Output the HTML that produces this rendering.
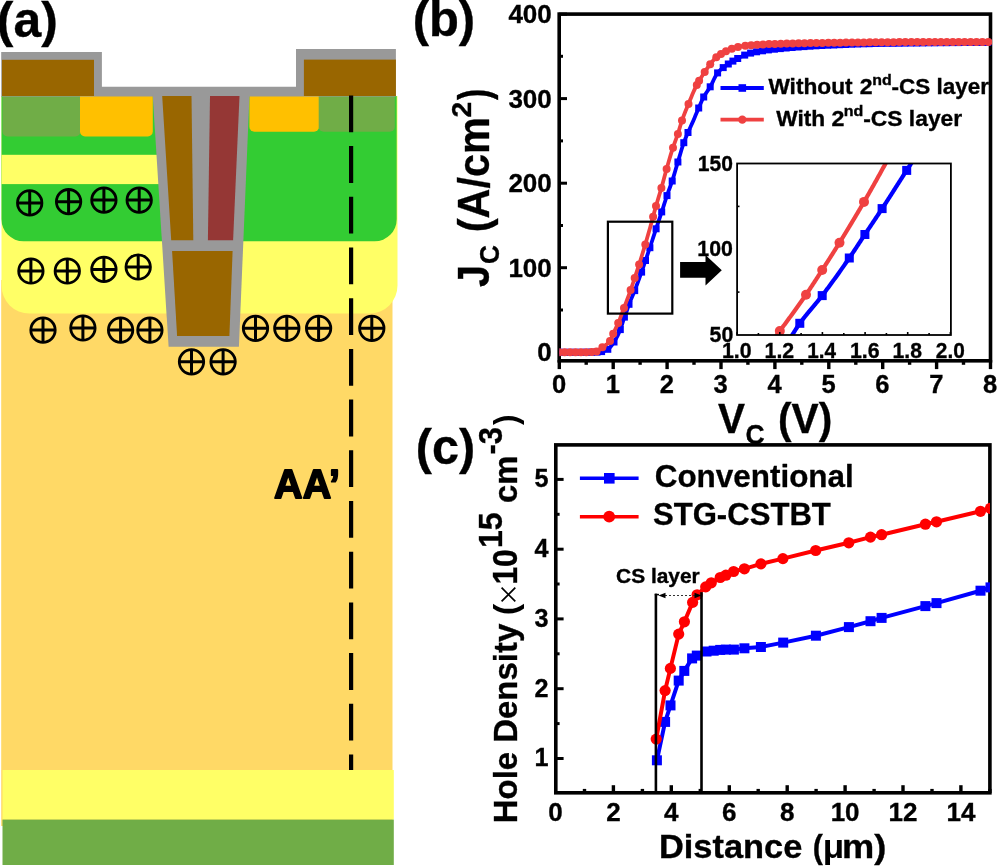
<!DOCTYPE html>
<html><head><meta charset="utf-8"><title>Figure</title>
<style>
html,body{margin:0;padding:0;background:#fff;width:998px;height:866px;overflow:hidden}
svg{display:block;will-change:transform}
text{font-family:"Liberation Sans",sans-serif;font-weight:bold;fill:#000;stroke:#000;stroke-width:0.35px}
</style></head><body>
<svg width="998" height="866" viewBox="0 0 998 866">
<rect x="1.2" y="280" width="391.3" height="546" fill="#FFD966" />
<rect x="2.5" y="770" width="391.3" height="49.6" fill="#FFFF66" />
<rect x="2.5" y="819.6" width="391.3" height="45.4" fill="#70AD47" />
<path d="M1.5 96 H397.5 V285.6 A28 28 0 0 1 369.5 313.6 H29.5 A28 28 0 0 1 1.5 285.6 Z" fill="#FFFF66"/>
<path d="M1.5 96 H396.7 V219.3 A22 22 0 0 1 374.7 241.3 H23.5 A22 22 0 0 1 1.5 219.3 Z" fill="#33CC33"/>
<rect x="1.5" y="154.8" width="158.5" height="29.3" fill="#FFFF66" />
<path d="M2.5 96 H80.5 V131.4 A5 5 0 0 1 75.5 136.4 H7.5 A5 5 0 0 1 2.5 131.4 Z" fill="#70AD47"/>
<path d="M80 96 H152.8 V131.4 A5 5 0 0 1 147.8 136.4 H85 A5 5 0 0 1 80 131.4 Z" fill="#FFC000"/>
<path d="M249.4 96 H319 V126.8 A5 5 0 0 1 314 131.8 H254.4 A5 5 0 0 1 249.4 126.8 Z" fill="#FFC000"/>
<path d="M318.7 96 H394.8 V126.8 A5 5 0 0 1 389.8 131.8 H323.7 A5 5 0 0 1 318.7 126.8 Z" fill="#70AD47"/>
<polygon points="1.2,52 101.9,52 101.9,86.8 296,86.8 296,49 395.9,49 395.9,96.5 1.2,96.5" fill="#999999" />
<rect x="2" y="59.8" width="92" height="36.2" fill="#996600" />
<rect x="303.9" y="59.6" width="92" height="36.4" fill="#996600" />
<polygon points="152.7,95 249.5,95 238.9,346.8 168.6,346.8" fill="#999999" />
<polygon points="162.2,96 191.5,96 193.3,240.2 171.2,240.2" fill="#996600" />
<polygon points="210,96 239.5,96 233.1,240.2 207.9,240.2" fill="#953735" />
<polygon points="172.1,251 232.6,251 229.4,336.1 177.1,336.1" fill="#996600" />
<circle cx="29.7" cy="202.9" r="12.2" fill="none" stroke="#000" stroke-width="2.8"/>
<path d="M17.5 202.9H41.9M29.7 190.7V215.1" stroke="#000" stroke-width="3" fill="none"/>
<circle cx="68.6" cy="201.7" r="12.2" fill="none" stroke="#000" stroke-width="2.8"/>
<path d="M56.4 201.7H80.8M68.6 189.5V213.9" stroke="#000" stroke-width="3" fill="none"/>
<circle cx="103.9" cy="200.1" r="12.2" fill="none" stroke="#000" stroke-width="2.8"/>
<path d="M91.7 200.1H116.1M103.9 187.9V212.3" stroke="#000" stroke-width="3" fill="none"/>
<circle cx="139.2" cy="200.1" r="12.2" fill="none" stroke="#000" stroke-width="2.8"/>
<path d="M127 200.1H151.4M139.2 187.9V212.3" stroke="#000" stroke-width="3" fill="none"/>
<circle cx="30.9" cy="271" r="12.2" fill="none" stroke="#000" stroke-width="2.8"/>
<path d="M18.7 271H43.1M30.9 258.8V283.2" stroke="#000" stroke-width="3" fill="none"/>
<circle cx="67.3" cy="271" r="12.2" fill="none" stroke="#000" stroke-width="2.8"/>
<path d="M55.1 271H79.5M67.3 258.8V283.2" stroke="#000" stroke-width="3" fill="none"/>
<circle cx="103.9" cy="269.4" r="12.2" fill="none" stroke="#000" stroke-width="2.8"/>
<path d="M91.7 269.4H116.1M103.9 257.2V281.6" stroke="#000" stroke-width="3" fill="none"/>
<circle cx="138.2" cy="267" r="12.2" fill="none" stroke="#000" stroke-width="2.8"/>
<path d="M126 267H150.4M138.2 254.8V279.2" stroke="#000" stroke-width="3" fill="none"/>
<circle cx="43" cy="330.1" r="12.2" fill="none" stroke="#000" stroke-width="2.8"/>
<path d="M30.8 330.1H55.2M43 317.9V342.3" stroke="#000" stroke-width="3" fill="none"/>
<circle cx="82.9" cy="328" r="12.2" fill="none" stroke="#000" stroke-width="2.8"/>
<path d="M70.7 328H95.1M82.9 315.8V340.2" stroke="#000" stroke-width="3" fill="none"/>
<circle cx="120.6" cy="330.1" r="12.2" fill="none" stroke="#000" stroke-width="2.8"/>
<path d="M108.4 330.1H132.8M120.6 317.9V342.3" stroke="#000" stroke-width="3" fill="none"/>
<circle cx="149.9" cy="330.1" r="12.2" fill="none" stroke="#000" stroke-width="2.8"/>
<path d="M137.7 330.1H162.1M149.9 317.9V342.3" stroke="#000" stroke-width="3" fill="none"/>
<circle cx="255.5" cy="328.3" r="12.2" fill="none" stroke="#000" stroke-width="2.8"/>
<path d="M243.3 328.3H267.7M255.5 316.1V340.5" stroke="#000" stroke-width="3" fill="none"/>
<circle cx="286.8" cy="328.3" r="12.2" fill="none" stroke="#000" stroke-width="2.8"/>
<path d="M274.6 328.3H299M286.8 316.1V340.5" stroke="#000" stroke-width="3" fill="none"/>
<circle cx="318.6" cy="328.3" r="12.2" fill="none" stroke="#000" stroke-width="2.8"/>
<path d="M306.4 328.3H330.8M318.6 316.1V340.5" stroke="#000" stroke-width="3" fill="none"/>
<circle cx="371.8" cy="328.3" r="12.2" fill="none" stroke="#000" stroke-width="2.8"/>
<path d="M359.6 328.3H384M371.8 316.1V340.5" stroke="#000" stroke-width="3" fill="none"/>
<circle cx="191.5" cy="361.8" r="12.2" fill="none" stroke="#000" stroke-width="2.8"/>
<path d="M179.3 361.8H203.7M191.5 349.6V374" stroke="#000" stroke-width="3" fill="none"/>
<circle cx="223.1" cy="361.8" r="12.2" fill="none" stroke="#000" stroke-width="2.8"/>
<path d="M210.9 361.8H235.3M223.1 349.6V374" stroke="#000" stroke-width="3" fill="none"/>
<line x1="351.1" y1="95.4" x2="351.1" y2="770" stroke="#000" stroke-width="4.2" stroke-dasharray="36.8 13.9"/>
<text x="274.11" y="498.40" font-size="41.00" textLength="65.87" lengthAdjust="spacingAndGlyphs" style="stroke-width:1.80px;stroke-linejoin:round">AA&#8217;</text>
<text x="-3.19" y="36.50" font-size="50.00" textLength="60.94" lengthAdjust="spacingAndGlyphs">(a)</text>
<text x="412.64" y="36.10" font-size="49.50" textLength="62.57" lengthAdjust="spacingAndGlyphs">(b)</text>
<text x="415.86" y="464.00" font-size="49.50" textLength="59.33" lengthAdjust="spacingAndGlyphs">(c)</text>
<defs><clipPath id="cb"><rect x="559.3" y="12.3" width="433" height="350"/></clipPath><clipPath id="ci"><rect x="737.1" y="163.5" width="213.8" height="171.5"/></clipPath><clipPath id="cc"><rect x="556" y="445" width="433.9" height="348"/></clipPath></defs>
<rect x="559.2" y="14.1" width="431.3" height="346.7" fill="none" stroke="#000" stroke-width="3.6"/>
<line x1="559" y1="352.3" x2="567.0" y2="352.3" stroke="#000" stroke-width="3"/>
<line x1="559" y1="310.0" x2="563.0" y2="310.0" stroke="#000" stroke-width="3"/>
<line x1="559" y1="267.7" x2="567.0" y2="267.7" stroke="#000" stroke-width="3"/>
<line x1="559" y1="225.5" x2="563.0" y2="225.5" stroke="#000" stroke-width="3"/>
<line x1="559" y1="183.2" x2="567.0" y2="183.2" stroke="#000" stroke-width="3"/>
<line x1="559" y1="140.9" x2="563.0" y2="140.9" stroke="#000" stroke-width="3"/>
<line x1="559" y1="98.6" x2="567.0" y2="98.6" stroke="#000" stroke-width="3"/>
<line x1="559" y1="56.3" x2="563.0" y2="56.3" stroke="#000" stroke-width="3"/>
<line x1="559" y1="14.1" x2="567.0" y2="14.1" stroke="#000" stroke-width="3"/>
<line x1="559.3" y1="360" x2="559.3" y2="369.1" stroke="#000" stroke-width="3.4"/>
<line x1="586.2" y1="360" x2="586.2" y2="364.8" stroke="#000" stroke-width="3.4"/>
<line x1="613.2" y1="360" x2="613.2" y2="369.1" stroke="#000" stroke-width="3.4"/>
<line x1="640.1" y1="360" x2="640.1" y2="364.8" stroke="#000" stroke-width="3.4"/>
<line x1="667.1" y1="360" x2="667.1" y2="369.1" stroke="#000" stroke-width="3.4"/>
<line x1="694.0" y1="360" x2="694.0" y2="364.8" stroke="#000" stroke-width="3.4"/>
<line x1="721.0" y1="360" x2="721.0" y2="369.1" stroke="#000" stroke-width="3.4"/>
<line x1="747.9" y1="360" x2="747.9" y2="364.8" stroke="#000" stroke-width="3.4"/>
<line x1="774.9" y1="360" x2="774.9" y2="369.1" stroke="#000" stroke-width="3.4"/>
<line x1="801.8" y1="360" x2="801.8" y2="364.8" stroke="#000" stroke-width="3.4"/>
<line x1="828.8" y1="360" x2="828.8" y2="369.1" stroke="#000" stroke-width="3.4"/>
<line x1="855.8" y1="360" x2="855.8" y2="364.8" stroke="#000" stroke-width="3.4"/>
<line x1="882.7" y1="360" x2="882.7" y2="369.1" stroke="#000" stroke-width="3.4"/>
<line x1="909.6" y1="360" x2="909.6" y2="364.8" stroke="#000" stroke-width="3.4"/>
<line x1="936.6" y1="360" x2="936.6" y2="369.1" stroke="#000" stroke-width="3.4"/>
<line x1="963.5" y1="360" x2="963.5" y2="364.8" stroke="#000" stroke-width="3.4"/>
<line x1="990.5" y1="360" x2="990.5" y2="369.1" stroke="#000" stroke-width="3.4"/>
<text x="551.8" y="361.4" font-size="26" text-anchor="end">0</text>
<text x="551.8" y="276.8" font-size="26" text-anchor="end">100</text>
<text x="551.8" y="192.3" font-size="26" text-anchor="end">200</text>
<text x="551.8" y="107.7" font-size="26" text-anchor="end">300</text>
<text x="551.8" y="23.2" font-size="26" text-anchor="end">400</text>
<text x="559.0" y="393.2" font-size="25.5" text-anchor="middle">0</text>
<text x="612.9" y="393.2" font-size="25.5" text-anchor="middle">1</text>
<text x="666.8" y="393.2" font-size="25.5" text-anchor="middle">2</text>
<text x="720.7" y="393.2" font-size="25.5" text-anchor="middle">3</text>
<text x="774.6" y="393.2" font-size="25.5" text-anchor="middle">4</text>
<text x="828.5" y="393.2" font-size="25.5" text-anchor="middle">5</text>
<text x="882.4" y="393.2" font-size="25.5" text-anchor="middle">6</text>
<text x="936.3" y="393.2" font-size="25.5" text-anchor="middle">7</text>
<text x="990.2" y="393.2" font-size="25.5" text-anchor="middle">8</text>
<g clip-path="url(#cb)">
<path d="M559.30 352.30 L560.38 352.30 L561.46 352.30 L562.54 352.30 L563.62 352.30 L564.70 352.30 L565.78 352.30 L566.86 352.30 L567.95 352.29 L569.03 352.29 L570.11 352.29 L571.19 352.29 L572.27 352.29 L573.35 352.28 L574.43 352.28 L575.51 352.28 L576.59 352.27 L577.67 352.27 L578.75 352.27 L579.83 352.26 L580.91 352.26 L581.99 352.25 L583.08 352.25 L584.16 352.24 L585.24 352.23 L586.32 352.23 L587.40 352.22 L588.48 352.21 L589.56 352.20 L590.64 352.19 L591.72 352.18 L592.80 352.17 L593.88 352.16 L594.96 352.15 L596.04 352.14 L597.12 352.13 L598.21 352.08 L599.29 351.97 L600.37 351.82 L601.45 351.65 L602.53 351.44 L603.61 351.16 L604.69 350.80 L605.77 350.36 L606.85 349.85 L607.93 349.27 L609.01 348.46 L610.09 347.35 L611.17 346.03 L612.25 344.55 L613.34 342.98 L614.42 341.37 L615.50 339.61 L616.58 337.68 L617.66 335.57 L618.74 333.28 L619.82 330.82 L620.90 328.10 L621.98 324.78 L623.06 321.23 L624.14 317.87 L625.22 315.09 L626.30 312.40 L627.38 309.22 L628.46 305.92 L629.55 302.95 L630.63 300.26 L631.71 297.71 L632.79 295.21 L633.87 292.65 L634.95 289.95 L636.03 287.15 L637.11 284.29 L638.19 281.38 L639.27 278.42 L640.35 275.42 L641.43 272.39 L642.51 269.28 L643.59 266.09 L644.68 262.86 L645.76 259.68 L646.84 256.53 L647.92 253.38 L649.00 250.22 L650.08 247.02 L651.16 243.77 L652.24 240.48 L653.32 237.16 L654.40 233.85 L655.48 230.56 L656.56 227.30 L657.64 224.08 L658.72 220.87 L659.81 217.65 L660.89 214.42 L661.97 211.15 L663.05 207.80 L664.13 204.41 L665.21 201.03 L666.29 197.71 L667.37 194.51 L668.45 191.46 L669.53 188.49 L670.61 185.50 L671.69 182.40 L672.77 179.10 L673.85 175.60 L674.94 171.98 L676.02 168.31 L677.10 164.65 L678.18 161.06 L679.26 157.39 L680.34 153.68 L681.42 150.03 L682.50 146.54 L683.58 143.31 L684.66 140.42 L685.74 137.78 L686.82 135.26 L687.90 132.78 L688.98 130.31 L690.06 127.91 L691.15 125.53 L692.23 123.14 L693.31 120.68 L694.39 118.15 L695.47 115.57 L696.55 112.99 L697.63 110.44 L698.71 107.95 L699.79 105.46 L700.87 102.97 L701.95 100.55 L703.03 98.29 L704.11 96.26 L705.19 94.46 L706.28 92.80 L707.36 91.21 L708.44 89.61 L709.52 87.94 L710.60 86.12 L711.68 84.04 L712.76 81.80 L713.84 79.52 L714.92 77.31 L716.00 75.29 L717.08 73.59 L718.16 72.27 L719.24 71.09 L720.32 70.02 L721.41 69.04 L722.49 68.13 L723.57 67.27 L724.65 66.47 L725.73 65.70 L726.81 64.95 L727.89 64.22 L728.97 63.48 L730.05 62.77 L731.13 62.09 L732.21 61.44 L733.29 60.81 L734.37 60.20 L735.45 59.61 L736.54 59.05 L737.62 58.50 L738.70 57.96 L739.78 57.42 L740.86 56.88 L741.94 56.35 L743.02 55.83 L744.10 55.34 L745.18 54.87 L746.26 54.44 L747.34 54.04 L748.42 53.69 L749.50 53.40 L750.58 53.13 L751.66 52.88 L752.75 52.64 L753.83 52.40 L754.91 52.17 L755.99 51.95 L757.07 51.74 L758.15 51.54 L759.23 51.34 L760.31 51.15 L761.39 50.96 L762.47 50.79 L763.55 50.62 L764.63 50.45 L765.71 50.29 L766.79 50.14 L767.88 49.99 L768.96 49.84 L770.04 49.70 L771.12 49.57 L772.20 49.44 L773.28 49.31 L774.36 49.19 L775.44 49.07 L776.52 48.95 L777.60 48.83 L778.68 48.72 L779.76 48.61 L780.84 48.51 L781.92 48.40 L783.01 48.30 L784.09 48.19 L785.17 48.09 L786.25 47.99 L787.33 47.90 L788.41 47.80 L789.49 47.70 L790.57 47.61 L791.65 47.52 L792.73 47.43 L793.81 47.34 L794.89 47.25 L795.97 47.17 L797.05 47.08 L798.14 47.00 L799.22 46.92 L800.30 46.84 L801.38 46.76 L802.46 46.68 L803.54 46.61 L804.62 46.53 L805.70 46.46 L806.78 46.39 L807.86 46.32 L808.94 46.25 L810.02 46.18 L811.10 46.11 L812.18 46.05 L813.26 45.98 L814.35 45.92 L815.43 45.86 L816.51 45.80 L817.59 45.74 L818.67 45.68 L819.75 45.62 L820.83 45.56 L821.91 45.51 L822.99 45.45 L824.07 45.40 L825.15 45.35 L826.23 45.30 L827.31 45.25 L828.39 45.20 L829.48 45.15 L830.56 45.10 L831.64 45.05 L832.72 45.00 L833.80 44.96 L834.88 44.91 L835.96 44.86 L837.04 44.82 L838.12 44.77 L839.20 44.72 L840.28 44.68 L841.36 44.63 L842.44 44.59 L843.52 44.55 L844.61 44.50 L845.69 44.46 L846.77 44.42 L847.85 44.37 L848.93 44.33 L850.01 44.29 L851.09 44.25 L852.17 44.21 L853.25 44.17 L854.33 44.13 L855.41 44.10 L856.49 44.06 L857.57 44.02 L858.65 43.99 L859.74 43.95 L860.82 43.92 L861.90 43.88 L862.98 43.85 L864.06 43.82 L865.14 43.79 L866.22 43.76 L867.30 43.73 L868.38 43.70 L869.46 43.67 L870.54 43.64 L871.62 43.62 L872.70 43.59 L873.78 43.57 L874.86 43.54 L875.95 43.52 L877.03 43.50 L878.11 43.48 L879.19 43.46 L880.27 43.44 L881.35 43.42 L882.43 43.41 L883.51 43.39 L884.59 43.37 L885.67 43.36 L886.75 43.34 L887.83 43.33 L888.91 43.31 L889.99 43.30 L891.08 43.28 L892.16 43.27 L893.24 43.25 L894.32 43.24 L895.40 43.22 L896.48 43.21 L897.56 43.19 L898.64 43.18 L899.72 43.16 L900.80 43.15 L901.88 43.13 L902.96 43.12 L904.04 43.11 L905.12 43.09 L906.21 43.08 L907.29 43.06 L908.37 43.05 L909.45 43.04 L910.53 43.02 L911.61 43.01 L912.69 43.00 L913.77 42.98 L914.85 42.97 L915.93 42.96 L917.01 42.95 L918.09 42.93 L919.17 42.92 L920.25 42.91 L921.34 42.90 L922.42 42.88 L923.50 42.87 L924.58 42.86 L925.66 42.85 L926.74 42.84 L927.82 42.83 L928.90 42.82 L929.98 42.80 L931.06 42.79 L932.14 42.78 L933.22 42.77 L934.30 42.76 L935.38 42.75 L936.46 42.74 L937.55 42.73 L938.63 42.72 L939.71 42.71 L940.79 42.70 L941.87 42.69 L942.95 42.68 L944.03 42.67 L945.11 42.67 L946.19 42.66 L947.27 42.65 L948.35 42.64 L949.43 42.63 L950.51 42.62 L951.59 42.62 L952.68 42.61 L953.76 42.60 L954.84 42.59 L955.92 42.59 L957.00 42.58 L958.08 42.57 L959.16 42.57 L960.24 42.56 L961.32 42.56 L962.40 42.55 L963.48 42.54 L964.56 42.54 L965.64 42.53 L966.72 42.53 L967.81 42.52 L968.89 42.52 L969.97 42.51 L971.05 42.51 L972.13 42.51 L973.21 42.50 L974.29 42.50 L975.37 42.50 L976.45 42.49 L977.53 42.49 L978.61 42.49 L979.69 42.48 L980.77 42.48 L981.85 42.48 L982.94 42.48 L984.02 42.48 L985.10 42.48 L986.18 42.47 L987.26 42.47 L988.34 42.47 L989.42 42.47 L990.50 42.47" fill="none" stroke="#0000FF" stroke-width="3.8" stroke-linejoin="round"/>
<rect x="555.8" y="348.8" width="7" height="7" fill="#0000FF"/>
<rect x="561.2" y="348.8" width="7" height="7" fill="#0000FF"/>
<rect x="566.6" y="348.8" width="7" height="7" fill="#0000FF"/>
<rect x="572.0" y="348.8" width="7" height="7" fill="#0000FF"/>
<rect x="577.4" y="348.8" width="7" height="7" fill="#0000FF"/>
<rect x="582.8" y="348.7" width="7" height="7" fill="#0000FF"/>
<rect x="588.1" y="348.7" width="7" height="7" fill="#0000FF"/>
<rect x="593.5" y="348.6" width="7" height="7" fill="#0000FF"/>
<rect x="598.1" y="348.1" width="7" height="7" fill="#0000FF"/>
<rect x="604.3" y="345.8" width="7" height="7" fill="#0000FF"/>
<rect x="610.5" y="338.5" width="7" height="7" fill="#0000FF"/>
<rect x="616.8" y="326.1" width="7" height="7" fill="#0000FF"/>
<rect x="620.9" y="313.6" width="7" height="7" fill="#0000FF"/>
<rect x="625.5" y="300.8" width="7" height="7" fill="#0000FF"/>
<rect x="631.2" y="287.1" width="7" height="7" fill="#0000FF"/>
<rect x="638.1" y="268.6" width="7" height="7" fill="#0000FF"/>
<rect x="642.0" y="257.0" width="7" height="7" fill="#0000FF"/>
<rect x="646.4" y="244.2" width="7" height="7" fill="#0000FF"/>
<rect x="652.6" y="225.3" width="7" height="7" fill="#0000FF"/>
<rect x="658.2" y="208.4" width="7" height="7" fill="#0000FF"/>
<rect x="663.5" y="192.1" width="7" height="7" fill="#0000FF"/>
<rect x="668.7" y="177.5" width="7" height="7" fill="#0000FF"/>
<rect x="674.4" y="158.5" width="7" height="7" fill="#0000FF"/>
<rect x="680.3" y="139.2" width="7" height="7" fill="#0000FF"/>
<rect x="684.5" y="129.0" width="7" height="7" fill="#0000FF"/>
<rect x="695.2" y="104.5" width="7" height="7" fill="#0000FF"/>
<rect x="700.2" y="93.5" width="7" height="7" fill="#0000FF"/>
<rect x="706.7" y="83.3" width="7" height="7" fill="#0000FF"/>
<rect x="714.1" y="69.4" width="7" height="7" fill="#0000FF"/>
<rect x="719.7" y="64.1" width="7" height="7" fill="#0000FF"/>
<rect x="724.8" y="60.5" width="7" height="7" fill="#0000FF"/>
<rect x="729.4" y="57.6" width="7" height="7" fill="#0000FF"/>
<rect x="734.2" y="55.0" width="7" height="7" fill="#0000FF"/>
<rect x="741.2" y="51.6" width="7" height="7" fill="#0000FF"/>
<rect x="747.1" y="49.6" width="7" height="7" fill="#0000FF"/>
<rect x="753.1" y="48.3" width="7" height="7" fill="#0000FF"/>
<rect x="759.0" y="47.3" width="7" height="7" fill="#0000FF"/>
<rect x="764.9" y="46.4" width="7" height="7" fill="#0000FF"/>
<rect x="770.9" y="45.7" width="7" height="7" fill="#0000FF"/>
<rect x="776.8" y="45.1" width="7" height="7" fill="#0000FF"/>
<rect x="782.7" y="44.5" width="7" height="7" fill="#0000FF"/>
<rect x="788.6" y="44.0" width="7" height="7" fill="#0000FF"/>
<rect x="794.6" y="43.5" width="7" height="7" fill="#0000FF"/>
<rect x="800.5" y="43.1" width="7" height="7" fill="#0000FF"/>
<rect x="806.4" y="42.7" width="7" height="7" fill="#0000FF"/>
<rect x="812.4" y="42.3" width="7" height="7" fill="#0000FF"/>
<rect x="818.3" y="42.0" width="7" height="7" fill="#0000FF"/>
<rect x="824.2" y="41.7" width="7" height="7" fill="#0000FF"/>
<rect x="830.2" y="41.5" width="7" height="7" fill="#0000FF"/>
<rect x="836.1" y="41.2" width="7" height="7" fill="#0000FF"/>
<rect x="842.0" y="41.0" width="7" height="7" fill="#0000FF"/>
<rect x="847.9" y="40.7" width="7" height="7" fill="#0000FF"/>
<rect x="853.9" y="40.5" width="7" height="7" fill="#0000FF"/>
<rect x="859.8" y="40.3" width="7" height="7" fill="#0000FF"/>
<rect x="865.7" y="40.2" width="7" height="7" fill="#0000FF"/>
<rect x="871.7" y="40.0" width="7" height="7" fill="#0000FF"/>
<rect x="877.6" y="39.9" width="7" height="7" fill="#0000FF"/>
<rect x="883.5" y="39.8" width="7" height="7" fill="#0000FF"/>
<rect x="889.4" y="39.8" width="7" height="7" fill="#0000FF"/>
<rect x="895.4" y="39.7" width="7" height="7" fill="#0000FF"/>
<rect x="901.3" y="39.6" width="7" height="7" fill="#0000FF"/>
<rect x="907.2" y="39.5" width="7" height="7" fill="#0000FF"/>
<rect x="913.2" y="39.5" width="7" height="7" fill="#0000FF"/>
<rect x="919.1" y="39.4" width="7" height="7" fill="#0000FF"/>
<rect x="925.0" y="39.3" width="7" height="7" fill="#0000FF"/>
<rect x="930.9" y="39.3" width="7" height="7" fill="#0000FF"/>
<rect x="936.9" y="39.2" width="7" height="7" fill="#0000FF"/>
<rect x="942.8" y="39.2" width="7" height="7" fill="#0000FF"/>
<rect x="948.7" y="39.1" width="7" height="7" fill="#0000FF"/>
<rect x="954.7" y="39.1" width="7" height="7" fill="#0000FF"/>
<rect x="960.6" y="39.0" width="7" height="7" fill="#0000FF"/>
<rect x="966.5" y="39.0" width="7" height="7" fill="#0000FF"/>
<rect x="972.4" y="39.0" width="7" height="7" fill="#0000FF"/>
<rect x="978.4" y="39.0" width="7" height="7" fill="#0000FF"/>
<rect x="984.3" y="39.0" width="7" height="7" fill="#0000FF"/>
<path d="M559.30 352.30 L560.38 352.30 L561.46 352.30 L562.54 352.30 L563.62 352.30 L564.70 352.30 L565.78 352.30 L566.86 352.29 L567.95 352.29 L569.03 352.29 L570.11 352.29 L571.19 352.28 L572.27 352.28 L573.35 352.28 L574.43 352.27 L575.51 352.27 L576.59 352.26 L577.67 352.26 L578.75 352.25 L579.83 352.24 L580.91 352.24 L581.99 352.23 L583.08 352.22 L584.16 352.21 L585.24 352.20 L586.32 352.19 L587.40 352.18 L588.48 352.17 L589.56 352.16 L590.64 352.14 L591.72 352.13 L592.80 352.06 L593.88 351.92 L594.96 351.72 L596.04 351.48 L597.12 351.16 L598.21 350.60 L599.29 349.84 L600.37 348.98 L601.45 348.08 L602.53 347.23 L603.61 346.46 L604.69 345.72 L605.77 344.97 L606.85 344.15 L607.93 343.21 L609.01 342.11 L610.09 340.79 L611.17 338.71 L612.25 336.05 L613.34 333.49 L614.42 331.19 L615.50 328.95 L616.58 326.68 L617.66 324.32 L618.74 321.79 L619.82 319.10 L620.90 316.30 L621.98 313.42 L623.06 310.52 L624.14 307.65 L625.22 304.79 L626.30 301.92 L627.38 299.03 L628.46 296.11 L629.55 293.14 L630.63 290.10 L631.71 286.97 L632.79 283.76 L633.87 280.51 L634.95 277.24 L636.03 273.95 L637.11 270.64 L638.19 267.29 L639.27 263.90 L640.35 260.47 L641.43 257.01 L642.51 253.51 L643.59 249.97 L644.68 246.39 L645.76 242.76 L646.84 239.08 L647.92 235.34 L649.00 231.55 L650.08 227.73 L651.16 223.86 L652.24 219.88 L653.32 215.85 L654.40 211.84 L655.48 207.91 L656.56 204.14 L657.64 200.50 L658.72 196.91 L659.81 193.32 L660.89 189.65 L661.97 185.86 L663.05 181.92 L664.13 177.92 L665.21 173.91 L666.29 169.98 L667.37 166.18 L668.45 162.45 L669.53 158.77 L670.61 155.16 L671.69 151.66 L672.77 148.28 L673.85 145.09 L674.94 142.10 L676.02 139.18 L677.10 136.18 L678.18 132.97 L679.26 129.42 L680.34 125.74 L681.42 122.20 L682.50 119.03 L683.58 116.07 L684.66 113.26 L685.74 110.55 L686.82 107.91 L687.90 105.30 L688.98 102.69 L690.06 100.06 L691.15 97.44 L692.23 94.85 L693.31 92.33 L694.39 89.89 L695.47 87.58 L696.55 85.40 L697.63 83.38 L698.71 81.46 L699.79 79.64 L700.87 77.89 L701.95 76.19 L703.03 74.54 L704.11 72.90 L705.19 71.27 L706.28 69.66 L707.36 68.09 L708.44 66.57 L709.52 65.11 L710.60 63.72 L711.68 62.35 L712.76 61.01 L713.84 59.73 L714.92 58.56 L716.00 57.53 L717.08 56.65 L718.16 55.84 L719.24 55.07 L720.32 54.36 L721.41 53.69 L722.49 53.06 L723.57 52.48 L724.65 51.92 L725.73 51.40 L726.81 50.90 L727.89 50.40 L728.97 49.91 L730.05 49.44 L731.13 48.99 L732.21 48.56 L733.29 48.16 L734.37 47.79 L735.45 47.46 L736.54 47.18 L737.62 46.94 L738.70 46.74 L739.78 46.56 L740.86 46.39 L741.94 46.24 L743.02 46.09 L744.10 45.96 L745.18 45.83 L746.26 45.71 L747.34 45.61 L748.42 45.50 L749.50 45.41 L750.58 45.31 L751.66 45.23 L752.75 45.14 L753.83 45.06 L754.91 44.98 L755.99 44.90 L757.07 44.82 L758.15 44.75 L759.23 44.67 L760.31 44.60 L761.39 44.54 L762.47 44.47 L763.55 44.41 L764.63 44.34 L765.71 44.28 L766.79 44.23 L767.88 44.17 L768.96 44.12 L770.04 44.07 L771.12 44.02 L772.20 43.98 L773.28 43.94 L774.36 43.90 L775.44 43.86 L776.52 43.82 L777.60 43.79 L778.68 43.76 L779.76 43.73 L780.84 43.70 L781.92 43.67 L783.01 43.64 L784.09 43.61 L785.17 43.58 L786.25 43.56 L787.33 43.53 L788.41 43.50 L789.49 43.48 L790.57 43.45 L791.65 43.43 L792.73 43.41 L793.81 43.38 L794.89 43.36 L795.97 43.34 L797.05 43.32 L798.14 43.29 L799.22 43.27 L800.30 43.25 L801.38 43.23 L802.46 43.21 L803.54 43.19 L804.62 43.17 L805.70 43.16 L806.78 43.14 L807.86 43.12 L808.94 43.10 L810.02 43.09 L811.10 43.07 L812.18 43.05 L813.26 43.03 L814.35 43.02 L815.43 43.00 L816.51 42.99 L817.59 42.97 L818.67 42.95 L819.75 42.94 L820.83 42.92 L821.91 42.91 L822.99 42.89 L824.07 42.88 L825.15 42.86 L826.23 42.85 L827.31 42.83 L828.39 42.82 L829.48 42.80 L830.56 42.79 L831.64 42.77 L832.72 42.76 L833.80 42.74 L834.88 42.73 L835.96 42.71 L837.04 42.70 L838.12 42.68 L839.20 42.67 L840.28 42.65 L841.36 42.64 L842.44 42.62 L843.52 42.61 L844.61 42.59 L845.69 42.58 L846.77 42.57 L847.85 42.55 L848.93 42.54 L850.01 42.52 L851.09 42.51 L852.17 42.50 L853.25 42.48 L854.33 42.47 L855.41 42.46 L856.49 42.45 L857.57 42.43 L858.65 42.42 L859.74 42.41 L860.82 42.40 L861.90 42.39 L862.98 42.38 L864.06 42.36 L865.14 42.35 L866.22 42.34 L867.30 42.33 L868.38 42.32 L869.46 42.31 L870.54 42.30 L871.62 42.29 L872.70 42.29 L873.78 42.28 L874.86 42.27 L875.95 42.26 L877.03 42.25 L878.11 42.25 L879.19 42.24 L880.27 42.23 L881.35 42.23 L882.43 42.22 L883.51 42.21 L884.59 42.21 L885.67 42.20 L886.75 42.20 L887.83 42.19 L888.91 42.19 L889.99 42.18 L891.08 42.18 L892.16 42.17 L893.24 42.16 L894.32 42.16 L895.40 42.15 L896.48 42.15 L897.56 42.14 L898.64 42.14 L899.72 42.13 L900.80 42.13 L901.88 42.12 L902.96 42.12 L904.04 42.11 L905.12 42.11 L906.21 42.10 L907.29 42.10 L908.37 42.09 L909.45 42.09 L910.53 42.08 L911.61 42.08 L912.69 42.07 L913.77 42.07 L914.85 42.06 L915.93 42.06 L917.01 42.05 L918.09 42.05 L919.17 42.05 L920.25 42.04 L921.34 42.04 L922.42 42.03 L923.50 42.03 L924.58 42.02 L925.66 42.02 L926.74 42.02 L927.82 42.01 L928.90 42.01 L929.98 42.00 L931.06 42.00 L932.14 41.99 L933.22 41.99 L934.30 41.99 L935.38 41.98 L936.46 41.98 L937.55 41.98 L938.63 41.97 L939.71 41.97 L940.79 41.97 L941.87 41.96 L942.95 41.96 L944.03 41.96 L945.11 41.95 L946.19 41.95 L947.27 41.95 L948.35 41.94 L949.43 41.94 L950.51 41.94 L951.59 41.93 L952.68 41.93 L953.76 41.93 L954.84 41.93 L955.92 41.92 L957.00 41.92 L958.08 41.92 L959.16 41.92 L960.24 41.91 L961.32 41.91 L962.40 41.91 L963.48 41.91 L964.56 41.90 L965.64 41.90 L966.72 41.90 L967.81 41.90 L968.89 41.90 L969.97 41.90 L971.05 41.89 L972.13 41.89 L973.21 41.89 L974.29 41.89 L975.37 41.89 L976.45 41.89 L977.53 41.89 L978.61 41.89 L979.69 41.88 L980.77 41.88 L981.85 41.88 L982.94 41.88 L984.02 41.88 L985.10 41.88 L986.18 41.88 L987.26 41.88 L988.34 41.88 L989.42 41.88 L990.50 41.88" fill="none" stroke="#EF4141" stroke-width="3.8" stroke-linejoin="round"/>
<circle cx="559.3" cy="352.3" r="4" fill="#EF4141"/>
<circle cx="564.7" cy="352.3" r="4" fill="#EF4141"/>
<circle cx="570.1" cy="352.3" r="4" fill="#EF4141"/>
<circle cx="575.5" cy="352.3" r="4" fill="#EF4141"/>
<circle cx="580.9" cy="352.2" r="4" fill="#EF4141"/>
<circle cx="586.2" cy="352.2" r="4" fill="#EF4141"/>
<circle cx="591.6" cy="352.1" r="4" fill="#EF4141"/>
<circle cx="596.5" cy="351.4" r="4" fill="#EF4141"/>
<circle cx="602.4" cy="347.3" r="4" fill="#EF4141"/>
<circle cx="610.0" cy="341.0" r="4" fill="#EF4141"/>
<circle cx="613.2" cy="333.8" r="4" fill="#EF4141"/>
<circle cx="618.2" cy="323.0" r="4" fill="#EF4141"/>
<circle cx="624.0" cy="308.1" r="4" fill="#EF4141"/>
<circle cx="630.6" cy="290.1" r="4" fill="#EF4141"/>
<circle cx="634.7" cy="278.0" r="4" fill="#EF4141"/>
<circle cx="639.1" cy="264.5" r="4" fill="#EF4141"/>
<circle cx="645.3" cy="244.4" r="4" fill="#EF4141"/>
<circle cx="653.1" cy="216.7" r="4" fill="#EF4141"/>
<circle cx="656.0" cy="206.1" r="4" fill="#EF4141"/>
<circle cx="661.4" cy="187.9" r="4" fill="#EF4141"/>
<circle cx="666.6" cy="169.0" r="4" fill="#EF4141"/>
<circle cx="673.0" cy="147.7" r="4" fill="#EF4141"/>
<circle cx="677.9" cy="133.9" r="4" fill="#EF4141"/>
<circle cx="682.0" cy="120.5" r="4" fill="#EF4141"/>
<circle cx="688.5" cy="103.9" r="4" fill="#EF4141"/>
<circle cx="696.8" cy="84.9" r="4" fill="#EF4141"/>
<circle cx="699.1" cy="80.8" r="4" fill="#EF4141"/>
<circle cx="704.7" cy="72.0" r="4" fill="#EF4141"/>
<circle cx="710.2" cy="64.2" r="4" fill="#EF4141"/>
<circle cx="716.3" cy="57.3" r="4" fill="#EF4141"/>
<circle cx="721.0" cy="53.9" r="4" fill="#EF4141"/>
<circle cx="726.0" cy="51.3" r="4" fill="#EF4141"/>
<circle cx="731.8" cy="48.7" r="4" fill="#EF4141"/>
<circle cx="738.0" cy="46.9" r="4" fill="#EF4141"/>
<circle cx="745.3" cy="45.8" r="4" fill="#EF4141"/>
<circle cx="751.2" cy="45.3" r="4" fill="#EF4141"/>
<circle cx="757.1" cy="44.8" r="4" fill="#EF4141"/>
<circle cx="763.0" cy="44.4" r="4" fill="#EF4141"/>
<circle cx="769.0" cy="44.1" r="4" fill="#EF4141"/>
<circle cx="774.9" cy="43.9" r="4" fill="#EF4141"/>
<circle cx="780.8" cy="43.7" r="4" fill="#EF4141"/>
<circle cx="786.8" cy="43.5" r="4" fill="#EF4141"/>
<circle cx="792.7" cy="43.4" r="4" fill="#EF4141"/>
<circle cx="798.6" cy="43.3" r="4" fill="#EF4141"/>
<circle cx="804.5" cy="43.2" r="4" fill="#EF4141"/>
<circle cx="810.5" cy="43.1" r="4" fill="#EF4141"/>
<circle cx="816.4" cy="43.0" r="4" fill="#EF4141"/>
<circle cx="822.3" cy="42.9" r="4" fill="#EF4141"/>
<circle cx="828.3" cy="42.8" r="4" fill="#EF4141"/>
<circle cx="834.2" cy="42.7" r="4" fill="#EF4141"/>
<circle cx="840.1" cy="42.7" r="4" fill="#EF4141"/>
<circle cx="846.0" cy="42.6" r="4" fill="#EF4141"/>
<circle cx="852.0" cy="42.5" r="4" fill="#EF4141"/>
<circle cx="857.9" cy="42.4" r="4" fill="#EF4141"/>
<circle cx="863.8" cy="42.4" r="4" fill="#EF4141"/>
<circle cx="869.8" cy="42.3" r="4" fill="#EF4141"/>
<circle cx="875.7" cy="42.3" r="4" fill="#EF4141"/>
<circle cx="881.6" cy="42.2" r="4" fill="#EF4141"/>
<circle cx="887.6" cy="42.2" r="4" fill="#EF4141"/>
<circle cx="893.5" cy="42.2" r="4" fill="#EF4141"/>
<circle cx="899.4" cy="42.1" r="4" fill="#EF4141"/>
<circle cx="905.3" cy="42.1" r="4" fill="#EF4141"/>
<circle cx="911.3" cy="42.1" r="4" fill="#EF4141"/>
<circle cx="917.2" cy="42.1" r="4" fill="#EF4141"/>
<circle cx="923.1" cy="42.0" r="4" fill="#EF4141"/>
<circle cx="929.1" cy="42.0" r="4" fill="#EF4141"/>
<circle cx="935.0" cy="42.0" r="4" fill="#EF4141"/>
<circle cx="940.9" cy="42.0" r="4" fill="#EF4141"/>
<circle cx="946.8" cy="41.9" r="4" fill="#EF4141"/>
<circle cx="952.8" cy="41.9" r="4" fill="#EF4141"/>
<circle cx="958.7" cy="41.9" r="4" fill="#EF4141"/>
<circle cx="964.6" cy="41.9" r="4" fill="#EF4141"/>
<circle cx="970.6" cy="41.9" r="4" fill="#EF4141"/>
<circle cx="976.5" cy="41.9" r="4" fill="#EF4141"/>
<circle cx="982.4" cy="41.9" r="4" fill="#EF4141"/>
<circle cx="988.3" cy="41.9" r="4" fill="#EF4141"/>
</g>
<text transform="translate(488.70,866) rotate(-90)" x="579.10" y="0.00" font-size="43.50" textLength="22.01" lengthAdjust="spacingAndGlyphs">J</text>
<text transform="translate(488.70,866) rotate(-90)" x="602.05" y="10.60" font-size="28.50" textLength="18.93" lengthAdjust="spacingAndGlyphs">C</text>
<text transform="translate(488.70,866) rotate(-90)" x="633.74" y="0.00" font-size="43.50" textLength="115.11" lengthAdjust="spacingAndGlyphs">(A/cm</text>
<text transform="translate(488.70,866) rotate(-90)" x="748.46" y="-17.40" font-size="28.50" textLength="15.66" lengthAdjust="spacingAndGlyphs">2</text>
<text transform="translate(488.70,866) rotate(-90)" x="766.00" y="0.00" font-size="43.50" textLength="11.25" lengthAdjust="spacingAndGlyphs">)</text>
<text x="718.10" y="433.40" font-size="42.00" textLength="26.98" lengthAdjust="spacingAndGlyphs">V</text>
<text x="745.44" y="444.00" font-size="28.00" textLength="19.15" lengthAdjust="spacingAndGlyphs">C</text>
<text x="778.07" y="433.40" font-size="42.00" textLength="54.17" lengthAdjust="spacingAndGlyphs">(V)</text>
<line x1="720.5" y1="88" x2="763.8" y2="88" stroke="#0000FF" stroke-width="3.8"/>
<rect x="738.5" y="84.2" width="7.6" height="7.6" fill="#0000FF"/>
<line x1="720.5" y1="119.6" x2="763.8" y2="119.6" stroke="#EF4141" stroke-width="3.8"/>
<circle cx="742.3" cy="119.6" r="4.2" fill="#EF4141"/>
<text x="768.40" y="94.00" font-size="22.60" textLength="84.27" lengthAdjust="spacingAndGlyphs">Without</text>
<text x="859.81" y="94.00" font-size="22.60" textLength="12.83" lengthAdjust="spacingAndGlyphs">2</text>
<text x="872.25" y="84.60" font-size="14.00" textLength="19.42" lengthAdjust="spacingAndGlyphs">nd</text>
<text x="891.43" y="94.00" font-size="22.60" textLength="97.48" lengthAdjust="spacingAndGlyphs">-CS layer</text>
<text x="776.20" y="125.80" font-size="22.60" textLength="48.98" lengthAdjust="spacingAndGlyphs">With</text>
<text x="831.60" y="125.80" font-size="22.60" textLength="12.94" lengthAdjust="spacingAndGlyphs">2</text>
<text x="843.84" y="116.00" font-size="14.00" textLength="19.53" lengthAdjust="spacingAndGlyphs">nd</text>
<text x="863.21" y="125.80" font-size="22.60" textLength="98.99" lengthAdjust="spacingAndGlyphs">-CS layer</text>
<rect x="607.9" y="221.7" width="64.4" height="91.9" fill="none" stroke="#000" stroke-width="2.2"/>
<polygon points="680.1,262.1 705.5,262.1 705.5,254.9 721.8,270.2 705.5,285.5 705.5,277.7 680.1,277.7" fill="#000"/>
<rect x="737.1" y="163.5" width="213.8" height="171.5" fill="#fff" stroke="none"/>
<g clip-path="url(#ci)">
<path d="M737.10 402.25 L737.63 401.85 L738.17 401.44 L738.70 401.04 L739.24 400.63 L739.77 400.23 L740.31 399.82 L740.84 399.41 L741.38 399.00 L741.91 398.58 L742.45 398.16 L742.98 397.73 L743.52 397.29 L744.05 396.85 L744.58 396.40 L745.12 395.94 L745.65 395.49 L746.19 395.02 L746.72 394.55 L747.26 394.07 L747.79 393.59 L748.33 393.10 L748.86 392.61 L749.40 392.11 L749.93 391.60 L750.46 391.09 L751.00 390.58 L751.53 390.06 L752.07 389.53 L752.60 389.00 L753.14 388.46 L753.67 387.91 L754.21 387.37 L754.74 386.81 L755.28 386.25 L755.81 385.68 L756.35 385.11 L756.88 384.54 L757.41 383.95 L757.95 383.36 L758.48 382.77 L759.02 382.17 L759.55 381.57 L760.09 380.96 L760.62 380.34 L761.16 379.72 L761.69 379.10 L762.23 378.47 L762.76 377.83 L763.29 377.19 L763.83 376.54 L764.36 375.89 L764.90 375.23 L765.43 374.57 L765.97 373.88 L766.50 373.16 L767.04 372.42 L767.57 371.66 L768.11 370.88 L768.64 370.07 L769.18 369.25 L769.71 368.41 L770.24 367.56 L770.78 366.70 L771.31 365.82 L771.85 364.94 L772.38 364.04 L772.92 363.14 L773.45 362.24 L773.99 361.34 L774.52 360.43 L775.06 359.52 L775.59 358.62 L776.12 357.73 L776.66 356.84 L777.19 355.95 L777.73 355.08 L778.26 354.22 L778.80 353.37 L779.33 352.54 L779.87 351.73 L780.40 350.93 L780.94 350.15 L781.47 349.40 L782.01 348.67 L782.54 347.96 L783.07 347.27 L783.61 346.60 L784.14 345.93 L784.68 345.27 L785.21 344.62 L785.75 343.96 L786.28 343.30 L786.82 342.64 L787.35 341.96 L787.89 341.26 L788.42 340.55 L788.95 339.82 L789.49 339.06 L790.02 338.29 L790.56 337.50 L791.09 336.69 L791.63 335.88 L792.16 335.05 L792.70 334.22 L793.23 333.38 L793.77 332.53 L794.30 331.69 L794.84 330.84 L795.37 330.00 L795.90 329.16 L796.44 328.32 L796.97 327.50 L797.51 326.68 L798.04 325.88 L798.58 325.09 L799.11 324.32 L799.65 323.56 L800.18 322.83 L800.72 322.10 L801.25 321.38 L801.78 320.67 L802.32 319.97 L802.85 319.27 L803.39 318.58 L803.92 317.90 L804.46 317.22 L804.99 316.54 L805.53 315.88 L806.06 315.21 L806.60 314.56 L807.13 313.90 L807.67 313.25 L808.20 312.60 L808.73 311.96 L809.27 311.32 L809.80 310.68 L810.34 310.04 L810.87 309.40 L811.41 308.77 L811.94 308.13 L812.48 307.50 L813.01 306.87 L813.55 306.23 L814.08 305.59 L814.62 304.96 L815.15 304.32 L815.68 303.68 L816.22 303.03 L816.75 302.39 L817.29 301.74 L817.82 301.09 L818.36 300.43 L818.89 299.77 L819.43 299.10 L819.96 298.43 L820.50 297.76 L821.03 297.08 L821.56 296.39 L822.10 295.70 L822.63 295.00 L823.17 294.29 L823.70 293.59 L824.24 292.89 L824.77 292.18 L825.31 291.47 L825.84 290.76 L826.38 290.05 L826.91 289.33 L827.45 288.61 L827.98 287.90 L828.51 287.18 L829.05 286.45 L829.58 285.73 L830.12 285.01 L830.65 284.28 L831.19 283.55 L831.72 282.82 L832.26 282.09 L832.79 281.35 L833.33 280.62 L833.86 279.88 L834.39 279.14 L834.93 278.40 L835.46 277.66 L836.00 276.92 L836.53 276.17 L837.07 275.43 L837.60 274.68 L838.14 273.93 L838.67 273.18 L839.21 272.43 L839.74 271.67 L840.28 270.92 L840.81 270.16 L841.34 269.41 L841.88 268.65 L842.41 267.89 L842.95 267.13 L843.48 266.36 L844.02 265.60 L844.55 264.84 L845.09 264.07 L845.62 263.30 L846.16 262.53 L846.69 261.76 L847.22 260.99 L847.76 260.22 L848.29 259.45 L848.83 258.67 L849.36 257.90 L849.90 257.12 L850.43 256.34 L850.97 255.55 L851.50 254.76 L852.04 253.97 L852.57 253.17 L853.11 252.37 L853.64 251.57 L854.17 250.76 L854.71 249.96 L855.24 249.15 L855.78 248.34 L856.31 247.52 L856.85 246.71 L857.38 245.89 L857.92 245.08 L858.45 244.26 L858.99 243.44 L859.52 242.63 L860.05 241.81 L860.59 240.99 L861.12 240.18 L861.66 239.36 L862.19 238.55 L862.73 237.74 L863.26 236.92 L863.80 236.11 L864.33 235.31 L864.87 234.50 L865.40 233.70 L865.94 232.90 L866.47 232.09 L867.00 231.29 L867.54 230.50 L868.07 229.70 L868.61 228.90 L869.14 228.10 L869.68 227.30 L870.21 226.51 L870.75 225.71 L871.28 224.92 L871.82 224.12 L872.35 223.32 L872.88 222.53 L873.42 221.73 L873.95 220.93 L874.49 220.14 L875.02 219.34 L875.56 218.54 L876.09 217.74 L876.63 216.94 L877.16 216.14 L877.70 215.33 L878.23 214.53 L878.77 213.73 L879.30 212.92 L879.83 212.11 L880.37 211.30 L880.90 210.49 L881.44 209.68 L881.97 208.87 L882.51 208.05 L883.04 207.23 L883.58 206.41 L884.11 205.59 L884.65 204.77 L885.18 203.94 L885.72 203.12 L886.25 202.29 L886.78 201.46 L887.32 200.63 L887.85 199.80 L888.39 198.97 L888.92 198.13 L889.46 197.30 L889.99 196.46 L890.53 195.63 L891.06 194.79 L891.60 193.95 L892.13 193.11 L892.66 192.28 L893.20 191.44 L893.73 190.60 L894.27 189.76 L894.80 188.92 L895.34 188.08 L895.87 187.24 L896.41 186.40 L896.94 185.56 L897.48 184.72 L898.01 183.88 L898.55 183.04 L899.08 182.20 L899.61 181.36 L900.15 180.52 L900.68 179.69 L901.22 178.85 L901.75 178.01 L902.29 177.18 L902.82 176.34 L903.36 175.51 L903.89 174.68 L904.43 173.84 L904.96 173.01 L905.49 172.18 L906.03 171.36 L906.56 170.53 L907.10 169.70 L907.63 168.88 L908.17 168.06 L908.70 167.23 L909.24 166.41 L909.77 165.59 L910.31 164.78 L910.84 163.96 L911.38 163.14 L911.91 162.32 L912.44 161.51 L912.98 160.69 L913.51 159.88 L914.05 159.06 L914.58 158.25 L915.12 157.44 L915.65 156.62 L916.19 155.81 L916.72 155.00 L917.26 154.18 L917.79 153.37 L918.32 152.56 L918.86 151.74 L919.39 150.93 L919.93 150.11 L920.46 149.30 L921.00 148.48 L921.53 147.67 L922.07 146.85 L922.60 146.03 L923.14 145.22 L923.67 144.40 L924.21 143.58 L924.74 142.76 L925.27 141.93 L925.81 141.11 L926.34 140.29 L926.88 139.46 L927.41 138.63 L927.95 137.80 L928.48 136.97 L929.02 136.14 L929.55 135.31 L930.09 134.47 L930.62 133.63 L931.15 132.79 L931.69 131.94 L932.22 131.10 L932.76 130.25 L933.29 129.39 L933.83 128.54 L934.36 127.69 L934.90 126.83 L935.43 125.97 L935.97 125.11 L936.50 124.25 L937.04 123.39 L937.57 122.53 L938.10 121.67 L938.64 120.81 L939.17 119.95 L939.71 119.09 L940.24 118.24 L940.78 117.38 L941.31 116.52 L941.85 115.67 L942.38 114.81 L942.92 113.96 L943.45 113.11 L943.98 112.26 L944.52 111.41 L945.05 110.57 L945.59 109.73 L946.12 108.89 L946.66 108.06 L947.19 107.23 L947.73 106.40 L948.26 105.57 L948.80 104.75 L949.33 103.94 L949.87 103.12 L950.40 102.32" fill="none" stroke="#0000FF" stroke-width="4.2"/>
<rect x="795.3" y="318.8" width="9" height="9" fill="#0000FF"/>
<rect x="817.7" y="291.1" width="9" height="9" fill="#0000FF"/>
<rect x="844.8" y="253.5" width="9" height="9" fill="#0000FF"/>
<rect x="860.4" y="230.0" width="9" height="9" fill="#0000FF"/>
<rect x="877.6" y="204.1" width="9" height="9" fill="#0000FF"/>
<rect x="902.2" y="165.9" width="9" height="9" fill="#0000FF"/>
<path d="M737.10 383.19 L737.63 382.60 L738.17 382.00 L738.70 381.41 L739.24 380.83 L739.77 380.25 L740.31 379.67 L740.84 379.09 L741.38 378.51 L741.91 377.94 L742.45 377.37 L742.98 376.80 L743.52 376.23 L744.05 375.66 L744.58 375.09 L745.12 374.52 L745.65 373.95 L746.19 373.39 L746.72 372.82 L747.26 372.25 L747.79 371.67 L748.33 371.10 L748.86 370.53 L749.40 369.95 L749.93 369.37 L750.46 368.79 L751.00 368.20 L751.53 367.61 L752.07 367.02 L752.60 366.42 L753.14 365.82 L753.67 365.22 L754.21 364.61 L754.74 363.99 L755.28 363.37 L755.81 362.75 L756.35 362.12 L756.88 361.48 L757.41 360.84 L757.95 360.19 L758.48 359.53 L759.02 358.87 L759.55 358.21 L760.09 357.53 L760.62 356.86 L761.16 356.18 L761.69 355.50 L762.23 354.81 L762.76 354.11 L763.29 353.42 L763.83 352.72 L764.36 352.01 L764.90 351.31 L765.43 350.60 L765.97 349.89 L766.50 349.17 L767.04 348.45 L767.57 347.73 L768.11 347.01 L768.64 346.28 L769.18 345.56 L769.71 344.83 L770.24 344.10 L770.78 343.37 L771.31 342.63 L771.85 341.90 L772.38 341.17 L772.92 340.43 L773.45 339.70 L773.99 338.96 L774.52 338.23 L775.06 337.49 L775.59 336.76 L776.12 336.02 L776.66 335.29 L777.19 334.56 L777.73 333.82 L778.26 333.09 L778.80 332.36 L779.33 331.64 L779.87 330.91 L780.40 330.19 L780.94 329.46 L781.47 328.74 L782.01 328.01 L782.54 327.29 L783.07 326.56 L783.61 325.84 L784.14 325.11 L784.68 324.39 L785.21 323.66 L785.75 322.94 L786.28 322.21 L786.82 321.48 L787.35 320.76 L787.89 320.03 L788.42 319.30 L788.95 318.57 L789.49 317.85 L790.02 317.12 L790.56 316.39 L791.09 315.65 L791.63 314.92 L792.16 314.19 L792.70 313.45 L793.23 312.72 L793.77 311.98 L794.30 311.24 L794.84 310.50 L795.37 309.76 L795.90 309.02 L796.44 308.28 L796.97 307.54 L797.51 306.79 L798.04 306.04 L798.58 305.29 L799.11 304.54 L799.65 303.79 L800.18 303.03 L800.72 302.28 L801.25 301.52 L801.78 300.76 L802.32 300.00 L802.85 299.23 L803.39 298.47 L803.92 297.70 L804.46 296.93 L804.99 296.16 L805.53 295.38 L806.06 294.60 L806.60 293.82 L807.13 293.04 L807.67 292.25 L808.20 291.46 L808.73 290.66 L809.27 289.86 L809.80 289.06 L810.34 288.26 L810.87 287.45 L811.41 286.65 L811.94 285.83 L812.48 285.02 L813.01 284.21 L813.55 283.39 L814.08 282.57 L814.62 281.75 L815.15 280.93 L815.68 280.10 L816.22 279.28 L816.75 278.45 L817.29 277.63 L817.82 276.80 L818.36 275.97 L818.89 275.14 L819.43 274.31 L819.96 273.49 L820.50 272.66 L821.03 271.83 L821.56 271.00 L822.10 270.17 L822.63 269.34 L823.17 268.51 L823.70 267.68 L824.24 266.85 L824.77 266.02 L825.31 265.19 L825.84 264.35 L826.38 263.52 L826.91 262.68 L827.45 261.85 L827.98 261.01 L828.51 260.18 L829.05 259.34 L829.58 258.50 L830.12 257.66 L830.65 256.82 L831.19 255.97 L831.72 255.13 L832.26 254.29 L832.79 253.44 L833.33 252.59 L833.86 251.74 L834.39 250.89 L834.93 250.04 L835.46 249.19 L836.00 248.34 L836.53 247.48 L837.07 246.63 L837.60 245.77 L838.14 244.91 L838.67 244.05 L839.21 243.18 L839.74 242.32 L840.28 241.45 L840.81 240.59 L841.34 239.72 L841.88 238.85 L842.41 237.98 L842.95 237.11 L843.48 236.24 L844.02 235.37 L844.55 234.50 L845.09 233.62 L845.62 232.75 L846.16 231.87 L846.69 231.00 L847.22 230.12 L847.76 229.24 L848.29 228.36 L848.83 227.48 L849.36 226.60 L849.90 225.71 L850.43 224.83 L850.97 223.94 L851.50 223.06 L852.04 222.17 L852.57 221.28 L853.11 220.39 L853.64 219.50 L854.17 218.61 L854.71 217.71 L855.24 216.82 L855.78 215.92 L856.31 215.02 L856.85 214.12 L857.38 213.22 L857.92 212.32 L858.45 211.41 L858.99 210.51 L859.52 209.60 L860.05 208.69 L860.59 207.78 L861.12 206.87 L861.66 205.96 L862.19 205.04 L862.73 204.13 L863.26 203.21 L863.80 202.29 L864.33 201.37 L864.87 200.44 L865.40 199.52 L865.94 198.59 L866.47 197.66 L867.00 196.73 L867.54 195.80 L868.07 194.87 L868.61 193.93 L869.14 192.99 L869.68 192.06 L870.21 191.11 L870.75 190.17 L871.28 189.23 L871.82 188.28 L872.35 187.33 L872.88 186.39 L873.42 185.44 L873.95 184.48 L874.49 183.53 L875.02 182.58 L875.56 181.62 L876.09 180.66 L876.63 179.70 L877.16 178.74 L877.70 177.78 L878.23 176.82 L878.77 175.85 L879.30 174.89 L879.83 173.92 L880.37 172.95 L880.90 171.98 L881.44 171.01 L881.97 170.04 L882.51 169.07 L883.04 168.10 L883.58 167.12 L884.11 166.14 L884.65 165.17 L885.18 164.19 L885.72 163.21 L886.25 162.23 L886.78 161.24 L887.32 160.25 L887.85 159.25 L888.39 158.25 L888.92 157.25 L889.46 156.24 L889.99 155.23 L890.53 154.22 L891.06 153.20 L891.60 152.19 L892.13 151.17 L892.66 150.15 L893.20 149.13 L893.73 148.10 L894.27 147.08 L894.80 146.06 L895.34 145.04 L895.87 144.01 L896.41 142.99 L896.94 141.97 L897.48 140.95 L898.01 139.93 L898.55 138.91 L899.08 137.90 L899.61 136.88 L900.15 135.87 L900.68 134.87 L901.22 133.86 L901.75 132.86 L902.29 131.86 L902.82 130.87 L903.36 129.88 L903.89 128.90 L904.43 127.92 L904.96 126.94 L905.49 125.97 L906.03 125.01 L906.56 124.05 L907.10 123.10 L907.63 122.15 L908.17 121.21 L908.70 120.27 L909.24 119.33 L909.77 118.40 L910.31 117.47 L910.84 116.54 L911.38 115.62 L911.91 114.70 L912.44 113.78 L912.98 112.87 L913.51 111.95 L914.05 111.04 L914.58 110.13 L915.12 109.22 L915.65 108.31 L916.19 107.41 L916.72 106.50 L917.26 105.59 L917.79 104.68 L918.32 103.78 L918.86 102.87 L919.39 101.96 L919.93 101.05 L920.46 100.14 L921.00 99.22 L921.53 98.31 L922.07 97.39 L922.60 96.47 L923.14 95.54 L923.67 94.62 L924.21 93.69 L924.74 92.76 L925.27 91.82 L925.81 90.88 L926.34 89.93 L926.88 88.98 L927.41 88.03 L927.95 87.07 L928.48 86.11 L929.02 85.14 L929.55 84.16 L930.09 83.18 L930.62 82.20 L931.15 81.21 L931.69 80.22 L932.22 79.22 L932.76 78.22 L933.29 77.22 L933.83 76.21 L934.36 75.20 L934.90 74.19 L935.43 73.18 L935.97 72.16 L936.50 71.15 L937.04 70.13 L937.57 69.11 L938.10 68.09 L938.64 67.08 L939.17 66.06 L939.71 65.04 L940.24 64.02 L940.78 63.00 L941.31 61.99 L941.85 60.97 L942.38 59.96 L942.92 58.95 L943.45 57.94 L943.98 56.94 L944.52 55.93 L945.05 54.93 L945.59 53.94 L946.12 52.94 L946.66 51.95 L947.19 50.97 L947.73 49.99 L948.26 49.01 L948.80 48.04 L949.33 47.08 L949.87 46.12 L950.40 45.16" fill="none" stroke="#EF4141" stroke-width="4.2"/>
<circle cx="779.8" cy="331.1" r="5" fill="#EF4141"/>
<circle cx="806.0" cy="294.7" r="5" fill="#EF4141"/>
<circle cx="822.2" cy="270.0" r="5" fill="#EF4141"/>
<circle cx="839.5" cy="242.7" r="5" fill="#EF4141"/>
<circle cx="864.0" cy="201.9" r="5" fill="#EF4141"/>
</g>
<rect x="737.1" y="163.5" width="213.8" height="171.5" fill="none" stroke="#000" stroke-width="1.8"/>
<line x1="737.1" y1="335" x2="737.1" y2="332.0" stroke="#000" stroke-width="1.6"/>
<line x1="758.4" y1="335" x2="758.4" y2="333.0" stroke="#000" stroke-width="1.6"/>
<line x1="779.8" y1="335" x2="779.8" y2="332.0" stroke="#000" stroke-width="1.6"/>
<line x1="801.1" y1="335" x2="801.1" y2="333.0" stroke="#000" stroke-width="1.6"/>
<line x1="822.4" y1="335" x2="822.4" y2="332.0" stroke="#000" stroke-width="1.6"/>
<line x1="843.8" y1="335" x2="843.8" y2="333.0" stroke="#000" stroke-width="1.6"/>
<line x1="865.1" y1="335" x2="865.1" y2="332.0" stroke="#000" stroke-width="1.6"/>
<line x1="886.4" y1="335" x2="886.4" y2="333.0" stroke="#000" stroke-width="1.6"/>
<line x1="907.7" y1="335" x2="907.7" y2="332.0" stroke="#000" stroke-width="1.6"/>
<line x1="929.1" y1="335" x2="929.1" y2="333.0" stroke="#000" stroke-width="1.6"/>
<line x1="950.4" y1="335" x2="950.4" y2="332.0" stroke="#000" stroke-width="1.6"/>
<line x1="737" y1="292.1" x2="739.5" y2="292.1" stroke="#000" stroke-width="1.6"/>
<line x1="737" y1="206.4" x2="739.5" y2="206.4" stroke="#000" stroke-width="1.6"/>
<text x="697.74" y="170.50" font-size="22.50" textLength="35.12" lengthAdjust="spacingAndGlyphs">150</text>
<text x="697.32" y="256.20" font-size="22.50" textLength="35.55" lengthAdjust="spacingAndGlyphs">100</text>
<text x="709.56" y="341.50" font-size="22.50" textLength="23.71" lengthAdjust="spacingAndGlyphs">50</text>
<text x="721.92" y="358.00" font-size="22.30" textLength="29.65" lengthAdjust="spacingAndGlyphs">1.0</text>
<text x="764.58" y="358.00" font-size="22.30" textLength="29.65" lengthAdjust="spacingAndGlyphs">1.2</text>
<text x="807.28" y="358.00" font-size="22.30" textLength="28.76" lengthAdjust="spacingAndGlyphs">1.4</text>
<text x="849.90" y="358.00" font-size="22.30" textLength="29.65" lengthAdjust="spacingAndGlyphs">1.6</text>
<text x="892.57" y="358.00" font-size="22.30" textLength="29.42" lengthAdjust="spacingAndGlyphs">1.8</text>
<text x="935.87" y="358.00" font-size="22.30" textLength="28.98" lengthAdjust="spacingAndGlyphs">2.0</text>
<rect x="555.8" y="444.9" width="434.1" height="347.9" fill="none" stroke="#000" stroke-width="3.6"/>
<line x1="556" y1="758.5" x2="563.6" y2="758.5" stroke="#000" stroke-width="3"/>
<line x1="556" y1="723.6" x2="559.6" y2="723.6" stroke="#000" stroke-width="3"/>
<line x1="556" y1="688.7" x2="563.6" y2="688.7" stroke="#000" stroke-width="3"/>
<line x1="556" y1="653.8" x2="559.6" y2="653.8" stroke="#000" stroke-width="3"/>
<line x1="556" y1="618.9" x2="563.6" y2="618.9" stroke="#000" stroke-width="3"/>
<line x1="556" y1="584.0" x2="559.6" y2="584.0" stroke="#000" stroke-width="3"/>
<line x1="556" y1="549.2" x2="563.6" y2="549.2" stroke="#000" stroke-width="3"/>
<line x1="556" y1="514.3" x2="559.6" y2="514.3" stroke="#000" stroke-width="3"/>
<line x1="556" y1="479.4" x2="563.6" y2="479.4" stroke="#000" stroke-width="3"/>
<line x1="584.5" y1="793" x2="584.5" y2="788.9" stroke="#000" stroke-width="3.4"/>
<line x1="613.4" y1="793" x2="613.4" y2="785.2" stroke="#000" stroke-width="3.4"/>
<line x1="642.4" y1="793" x2="642.4" y2="788.9" stroke="#000" stroke-width="3.4"/>
<line x1="671.3" y1="793" x2="671.3" y2="785.2" stroke="#000" stroke-width="3.4"/>
<line x1="700.3" y1="793" x2="700.3" y2="788.9" stroke="#000" stroke-width="3.4"/>
<line x1="729.3" y1="793" x2="729.3" y2="785.2" stroke="#000" stroke-width="3.4"/>
<line x1="758.2" y1="793" x2="758.2" y2="788.9" stroke="#000" stroke-width="3.4"/>
<line x1="787.2" y1="793" x2="787.2" y2="785.2" stroke="#000" stroke-width="3.4"/>
<line x1="816.1" y1="793" x2="816.1" y2="788.9" stroke="#000" stroke-width="3.4"/>
<line x1="845.1" y1="793" x2="845.1" y2="785.2" stroke="#000" stroke-width="3.4"/>
<line x1="874.1" y1="793" x2="874.1" y2="788.9" stroke="#000" stroke-width="3.4"/>
<line x1="903.0" y1="793" x2="903.0" y2="785.2" stroke="#000" stroke-width="3.4"/>
<line x1="932.0" y1="793" x2="932.0" y2="788.9" stroke="#000" stroke-width="3.4"/>
<line x1="960.9" y1="793" x2="960.9" y2="785.2" stroke="#000" stroke-width="3.4"/>
<line x1="989.9" y1="793" x2="989.9" y2="788.9" stroke="#000" stroke-width="3.4"/>
<text x="548.6" y="766.4" font-size="25.2" text-anchor="end">1</text>
<text x="548.6" y="696.6" font-size="25.2" text-anchor="end">2</text>
<text x="548.6" y="626.8" font-size="25.2" text-anchor="end">3</text>
<text x="548.6" y="557.1" font-size="25.2" text-anchor="end">4</text>
<text x="548.6" y="487.3" font-size="25.2" text-anchor="end">5</text>
<text x="555.5" y="821.2" font-size="26" text-anchor="middle">0</text>
<text x="613.4" y="821.2" font-size="26" text-anchor="middle">2</text>
<text x="671.3" y="821.2" font-size="26" text-anchor="middle">4</text>
<text x="729.3" y="821.2" font-size="26" text-anchor="middle">6</text>
<text x="787.2" y="821.2" font-size="26" text-anchor="middle">8</text>
<text x="845.1" y="821.2" font-size="26" text-anchor="middle">10</text>
<text x="903.0" y="821.2" font-size="26" text-anchor="middle">12</text>
<text x="960.9" y="821.2" font-size="26" text-anchor="middle">14</text>
<g clip-path="url(#cc)">
<polyline points="656.9,760.3 665.1,721.9 670.5,705.4 678.7,680.6 684.3,670.9 692.1,658.4 696.8,655.6 706.5,651.5 713.7,650.7 720.2,649.9 725.9,649.6 733.9,649.6 744.4,648.3 760.9,647.0 783.2,642.6 815.9,635.7 848.9,627.1 870.5,621.2 881.6,617.9 925.4,606.1 936.5,603.1 980.5,590.7 990.5,587.4" fill="none" stroke="#0000FF" stroke-width="4" stroke-linejoin="round"/>
<rect x="651.9" y="755.3" width="10" height="10" fill="#0000FF"/>
<rect x="660.1" y="716.9" width="10" height="10" fill="#0000FF"/>
<rect x="665.5" y="700.4" width="10" height="10" fill="#0000FF"/>
<rect x="673.7" y="675.6" width="10" height="10" fill="#0000FF"/>
<rect x="679.3" y="665.9" width="10" height="10" fill="#0000FF"/>
<rect x="687.1" y="653.4" width="10" height="10" fill="#0000FF"/>
<rect x="691.8" y="650.6" width="10" height="10" fill="#0000FF"/>
<rect x="701.5" y="646.5" width="10" height="10" fill="#0000FF"/>
<rect x="708.7" y="645.7" width="10" height="10" fill="#0000FF"/>
<rect x="715.2" y="644.9" width="10" height="10" fill="#0000FF"/>
<rect x="720.9" y="644.6" width="10" height="10" fill="#0000FF"/>
<rect x="728.9" y="644.6" width="10" height="10" fill="#0000FF"/>
<rect x="739.4" y="643.3" width="10" height="10" fill="#0000FF"/>
<rect x="755.9" y="642.0" width="10" height="10" fill="#0000FF"/>
<rect x="778.2" y="637.6" width="10" height="10" fill="#0000FF"/>
<rect x="810.9" y="630.7" width="10" height="10" fill="#0000FF"/>
<rect x="843.9" y="622.1" width="10" height="10" fill="#0000FF"/>
<rect x="865.5" y="616.2" width="10" height="10" fill="#0000FF"/>
<rect x="876.6" y="612.9" width="10" height="10" fill="#0000FF"/>
<rect x="920.4" y="601.1" width="10" height="10" fill="#0000FF"/>
<rect x="931.5" y="598.1" width="10" height="10" fill="#0000FF"/>
<rect x="975.5" y="585.7" width="10" height="10" fill="#0000FF"/>
<rect x="985.5" y="582.4" width="10" height="10" fill="#0000FF"/>
<polyline points="656.2,739.1 665.1,690.6 670.4,668.4 678.7,634.1 684.4,621.8 692.6,602.4 697.1,594.8 705.7,586.9 711.3,582.8 720.2,577.5 725.9,575.2 733.6,571.5 744.4,568.8 760.9,563.9 782.9,558.6 815.7,550.5 848.8,542.8 870.5,537.1 881.6,534.7 925.4,524.2 936.5,521.8 980.5,511.3 990.5,508.3" fill="none" stroke="#FF0000" stroke-width="4" stroke-linejoin="round"/>
<circle cx="656.2" cy="739.1" r="5.6" fill="#FF0000"/>
<circle cx="665.1" cy="690.6" r="5.6" fill="#FF0000"/>
<circle cx="670.4" cy="668.4" r="5.6" fill="#FF0000"/>
<circle cx="678.7" cy="634.1" r="5.6" fill="#FF0000"/>
<circle cx="684.4" cy="621.8" r="5.6" fill="#FF0000"/>
<circle cx="692.6" cy="602.4" r="5.6" fill="#FF0000"/>
<circle cx="697.1" cy="594.8" r="5.6" fill="#FF0000"/>
<circle cx="705.7" cy="586.9" r="5.6" fill="#FF0000"/>
<circle cx="711.3" cy="582.8" r="5.6" fill="#FF0000"/>
<circle cx="720.2" cy="577.5" r="5.6" fill="#FF0000"/>
<circle cx="725.9" cy="575.2" r="5.6" fill="#FF0000"/>
<circle cx="733.6" cy="571.5" r="5.6" fill="#FF0000"/>
<circle cx="744.4" cy="568.8" r="5.6" fill="#FF0000"/>
<circle cx="760.9" cy="563.9" r="5.6" fill="#FF0000"/>
<circle cx="782.9" cy="558.6" r="5.6" fill="#FF0000"/>
<circle cx="815.7" cy="550.5" r="5.6" fill="#FF0000"/>
<circle cx="848.8" cy="542.8" r="5.6" fill="#FF0000"/>
<circle cx="870.5" cy="537.1" r="5.6" fill="#FF0000"/>
<circle cx="881.6" cy="534.7" r="5.6" fill="#FF0000"/>
<circle cx="925.4" cy="524.2" r="5.6" fill="#FF0000"/>
<circle cx="936.5" cy="521.8" r="5.6" fill="#FF0000"/>
<circle cx="980.5" cy="511.3" r="5.6" fill="#FF0000"/>
<circle cx="990.5" cy="508.3" r="5.6" fill="#FF0000"/>
</g>
<line x1="655.9" y1="593.6" x2="655.9" y2="792" stroke="#000" stroke-width="2.6"/>
<line x1="701.5" y1="592.2" x2="701.5" y2="792" stroke="#000" stroke-width="2.6"/>
<line x1="654.8" y1="594.6" x2="659" y2="594.6" stroke="#000" stroke-width="1.5"/>
<line x1="665" y1="595.5" x2="695" y2="595.5" stroke="#333" stroke-width="1.1" stroke-dasharray="2 2"/>
<polygon points="658.5,595.5 665.5,592.8 665.5,598.2" fill="#000"/>
<polygon points="701.5,595.5 694.5,592.8 694.5,598.2" fill="#000"/>
<text x="616.06" y="583.10" font-size="19.50" textLength="83.73" lengthAdjust="spacingAndGlyphs">CS layer</text>
<line x1="579.9" y1="478.2" x2="638.6" y2="478.2" stroke="#0000FF" stroke-width="3.4"/>
<rect x="604" y="473" width="10.6" height="10.6" fill="#0000FF"/>
<line x1="579.9" y1="516.7" x2="638.6" y2="516.7" stroke="#FF0000" stroke-width="3.4"/>
<circle cx="609.2" cy="516.7" r="5.9" fill="#FF0000"/>
<text x="654.69" y="486.85" font-size="30.80" textLength="199.09" lengthAdjust="spacingAndGlyphs" style="stroke-width:0.30px;stroke-linejoin:round">Conventional</text>
<text x="652.93" y="525.05" font-size="30.80" textLength="177.95" lengthAdjust="spacingAndGlyphs" style="stroke-width:0.30px;stroke-linejoin:round">STG-CSTBT</text>
<text transform="translate(517.00,866) rotate(-90)" x="42.72" y="0.00" font-size="33.50" textLength="199.55" lengthAdjust="spacingAndGlyphs">Hole Density</text>
<text transform="translate(517.00,866) rotate(-90)" x="250.73" y="0.00" font-size="33.50" font-weight="normal" textLength="11.47" lengthAdjust="spacingAndGlyphs" style="stroke-width:0">(</text>
<path d="M501.6 587.7L515.3 601.4M515.3 587.7L501.6 601.4" stroke="#000" stroke-width="1.7" fill="none"/>
<text transform="translate(517.00,866) rotate(-90)" x="281.39" y="0.00" font-size="34.50" textLength="35.47" lengthAdjust="spacingAndGlyphs">10</text>
<text transform="translate(517.00,866) rotate(-90)" x="317.98" y="-14.60" font-size="33.70" textLength="35.66" lengthAdjust="spacingAndGlyphs">15</text>
<text transform="translate(517.00,866) rotate(-90)" x="363.12" y="0.00" font-size="33.50" textLength="47.21" lengthAdjust="spacingAndGlyphs">cm</text>
<text transform="translate(517.00,866) rotate(-90)" x="411.47" y="-14.60" font-size="33.70" textLength="27.55" lengthAdjust="spacingAndGlyphs">-3</text>
<text transform="translate(517.00,866) rotate(-90)" x="440.90" y="0.00" font-size="33.50" font-weight="normal" textLength="10.47" lengthAdjust="spacingAndGlyphs" style="stroke-width:0">)</text>
<text x="658.94" y="857.80" font-size="33.00" textLength="143.36" lengthAdjust="spacingAndGlyphs">Distance</text>
<text x="812.79" y="857.80" font-size="33.00" textLength="10.10" lengthAdjust="spacingAndGlyphs">(</text>
<text x="822.80" y="857.90" font-size="33.00" font-weight="normal" font-family="Liberation Serif" textLength="21.45" lengthAdjust="spacingAndGlyphs" style="stroke-width:0">&#956;</text>
<text x="842.02" y="857.80" font-size="33.00" textLength="44.34" lengthAdjust="spacingAndGlyphs">m)</text>
</svg>
</body></html>
